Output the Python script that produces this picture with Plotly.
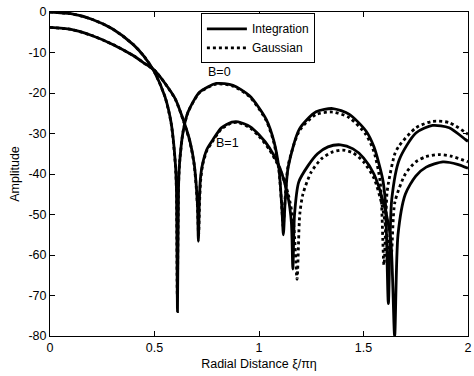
import plotly.graph_objects as go

# ---- data ----
x_b0_int = [0, 0.1, 0.2, 0.3, 0.4, 0.45, 0.5, 0.55, 0.58, 0.6, 0.605, 0.61, 0.615, 0.62, 0.6366, 0.66,
            0.7162, 0.7958, 0.8754, 0.9549, 1.0345, 1.07, 1.095, 1.11, 1.1166, 1.125, 1.14, 1.1937,
            1.2732, 1.3528, 1.4324, 1.512, 1.55, 1.5915, 1.605, 1.619, 1.635, 1.6711, 1.7507,
            1.8303, 1.9099, 1.9894, 2.0]
y_b0_int = [0, -0.43, -1.78, -4.19, -8.11, -10.96, -14.84, -20.89, -27.49, -37.53, -43.7, -74, -43.1, -37.3,
            -29.6, -24.74, -19.77, -17.65, -18.12, -20.7, -26.5, -31.65, -38.5, -48.9, -55, -46.9, -38.2,
            -28.86, -24.63, -23.84, -25.27, -29.38, -33.3, -41.2, -47.2, -72, -46.3, -36.46, -29.86,
            -28.02, -28.58, -31.54, -31.9]

x_b0_gau = [0, 0.1, 0.2, 0.3, 0.4, 0.45, 0.5, 0.55, 0.58, 0.6, 0.605, 0.609, 0.615, 0.62, 0.6366, 0.66,
            0.7162, 0.7958, 0.8754, 0.9549, 1.0345, 1.07, 1.095, 1.11, 1.1155, 1.125, 1.14, 1.1937,
            1.2732, 1.3528, 1.4324, 1.512, 1.55, 1.58, 1.598, 1.612, 1.62, 1.65, 1.6711, 1.7507,
            1.8303, 1.9099, 1.9894, 2.0]
y_b0_gau = [0, -0.43, -1.78, -4.2, -8.1, -10.95, -14.85, -20.9, -27.6, -37.8, -44, -70, -43, -37.2,
            -29.6, -24.8, -19.9, -17.8, -18.3, -20.9, -26.8, -32, -39, -49, -53, -46, -37.8, -29.3,
            -25.3, -24.7, -26.1, -30.3, -34.5, -42, -62.5, -45, -42, -35, -33, -28.6,
            -27.0, -27.3, -29.8, -30.2]

x_b1_int = [0, 0.1, 0.2, 0.3, 0.4, 0.45, 0.5, 0.55, 0.6, 0.644, 0.67, 0.69, 0.70, 0.706, 0.71, 0.715,
            0.72, 0.73, 0.75, 0.78, 0.82, 0.87, 0.9, 0.957, 1.0, 1.05, 1.1, 1.14, 1.155, 1.162, 1.17,
            1.19, 1.234, 1.28, 1.33, 1.39, 1.45, 1.5, 1.55, 1.6, 1.63, 1.649, 1.665, 1.7, 1.75, 1.8,
            1.88, 1.95, 2.0]
y_b1_int = [-3.8, -4.3, -5.8, -8.0, -10.8, -12.6, -14.4, -17.6, -21.5, -27.6, -32, -37.5, -43, -48,
            -56.6, -46, -41, -37.5, -34, -31.5, -28.6, -27.2, -27.1, -28.3, -30.3, -33.5, -38.5, -46,
            -52, -63.5, -50, -42, -38, -35, -33.3, -32.8, -33.8, -36, -40, -48, -56, -80, -55, -45,
            -40.5, -38.3, -37, -37.6, -38.6]

x_b1_gau = [0, 0.1, 0.2, 0.3, 0.4, 0.45, 0.5, 0.55, 0.6, 0.644, 0.67, 0.69, 0.70, 0.706, 0.711, 0.716,
            0.721, 0.73, 0.75, 0.78, 0.82, 0.87, 0.9, 0.957, 1.0, 1.05, 1.1, 1.14, 1.165, 1.182, 1.195,
            1.21, 1.25, 1.3, 1.35, 1.4, 1.45, 1.5, 1.55, 1.59, 1.615, 1.632, 1.65, 1.7, 1.75, 1.8,
            1.86, 1.92, 2.0]
y_b1_gau = [-3.8, -4.3, -5.8, -8.0, -10.8, -12.6, -14.4, -17.6, -21.6, -27.7, -32.2, -37.8, -43.5,
            -48.5, -55, -46.5, -41.5, -37.8, -34.3, -31.8, -28.9, -27.4, -27.3, -28.6, -30.7, -34,
            -38.8, -45, -52, -66, -50, -45, -39.5, -36.2, -34.6, -34.1, -34.8, -37, -41, -48, -56,
            -60, -47, -40, -37, -35.7, -35.2, -35.6, -37]

x_ticks = [0, 0.5, 1, 1.5, 2]
x_tick_labels = ["0", "0.5", "1", "1.5", "2"]
y_ticks = [-80, -70, -60, -50, -40, -30, -20, -10, 0]
y_tick_labels = ["-80", "-70", "-60", "-50", "-40", "-30", "-20", "-10", "0"]

FONT = "Liberation Sans, Arial, sans-serif"
LW = 2.8
SM = 0.7

fig = go.Figure()
fig.add_trace(go.Scatter(x=x_b0_int, y=y_b0_int, mode="lines", name="Integration",
                         line=dict(color="black", width=LW, shape="spline", smoothing=SM),
                         showlegend=True))
fig.add_trace(go.Scatter(x=x_b0_gau, y=y_b0_gau, mode="lines", name="Gaussian",
                         line=dict(color="black", width=LW, dash="dot", shape="spline", smoothing=SM),
                         showlegend=True))
fig.add_trace(go.Scatter(x=x_b1_int, y=y_b1_int, mode="lines", name="Integration B=1",
                         line=dict(color="black", width=LW, shape="spline", smoothing=SM),
                         showlegend=False))
fig.add_trace(go.Scatter(x=x_b1_gau, y=y_b1_gau, mode="lines", name="Gaussian B=1",
                         line=dict(color="black", width=LW, dash="dot", shape="spline", smoothing=SM),
                         showlegend=False))

fig.add_annotation(x=0.813, y=-14.8, text="B=0", showarrow=False,
                   font=dict(family=FONT, size=12.5, color="black"))
fig.add_annotation(x=0.85, y=-32.4, text="B=1", showarrow=False,
                   font=dict(family=FONT, size=12.5, color="black"))

fig.update_layout(
    width=474, height=376,
    margin=dict(l=50, r=6, t=12, b=40),
    paper_bgcolor="white", plot_bgcolor="white",
    font=dict(family=FONT, size=12.5, color="black"),
    legend=dict(x=0.361, y=0.996, xanchor="left", yanchor="top",
                bgcolor="white", bordercolor="black", borderwidth=1,
                font=dict(family=FONT, size=12, color="black"),
                tracegroupgap=0, itemwidth=40),
    xaxis=dict(range=[0, 2], tickvals=x_ticks, ticktext=x_tick_labels,
               ticks="inside", ticklen=5, tickcolor="black", showline=True,
               linecolor="black", linewidth=1, mirror="ticks", showgrid=False,
               zeroline=False, automargin=False, ticklabeloverflow="allow",
               title=dict(text="Radial Distance ξ/πη", standoff=5,
                          font=dict(family=FONT, size=12.5))),
    yaxis=dict(range=[-80, 0], tickvals=y_ticks, ticktext=y_tick_labels,
               ticks="inside", ticklen=5, tickcolor="black", showline=True,
               linecolor="black", linewidth=1, mirror="ticks", showgrid=False,
               zeroline=False, automargin=False, ticklabeloverflow="allow",
               title=dict(text="Amplitude", standoff=6,
                          font=dict(family=FONT, size=12.5))),
)

# remove the default 8px page margin so the figure fills the window exactly
fig.write_html("out.html", config={"displayModeBar": False},
               post_script="document.body.style.margin='0';")
